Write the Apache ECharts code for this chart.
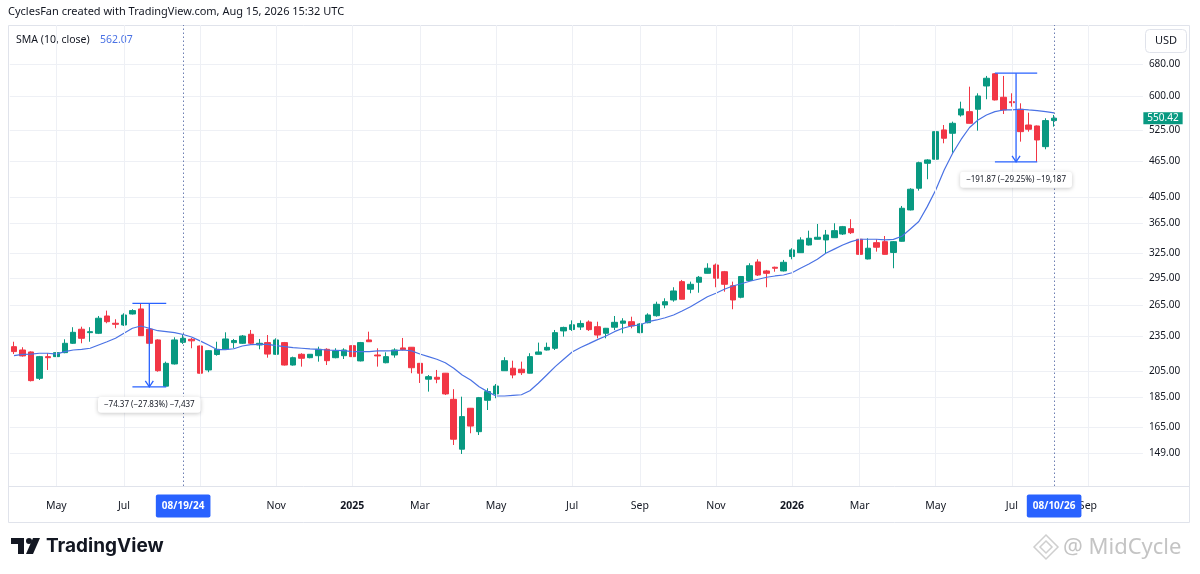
<!DOCTYPE html>
<html>
<head>
<meta charset="utf-8">
<script src="https://cdn.jsdelivr.net/npm/echarts@6/dist/echarts.min.js"></script>
<style>
html,body{margin:0;padding:0;background:#fff;}
#chart{width:1200px;height:574px;}
</style>
</head>
<body>
<div id="chart"></div>
<script>
// ---------- DATA ----------
const startWeek = '2024-04-01';   // first visible weekly candle (Monday)
const weekSlots = 134;            // weekly slots on the time axis (incl. future space)

const open = [225.6,222.7,221.0,199.4,217.0,217.0,220.4,228.6,241.5,238.3,
237.7,254.3,247.2,245.5,256.3,261.4,241.5,231.6,193.4,210.9,
229.5,232.2,226.2,206.0,218.8,223.3,229.2,228.6,236.8,227.1,
229.2,219.0,229.2,210.0,219.0,216.1,217.8,223.3,216.1,217.8,
226.5,213.4,231.6,218.4,211.9,218.4,224.5,225.1,211.4,198.7,
200.2,203.4,183.7,151.2,177.4,161.9,183.0,187.6,205.4,207.4,
206.6,203.4,219.0,222.7,224.2,239.9,241.2,243.6,248.4,243.9,
237.7,243.4,247.2,248.7,238.3,247.7,254.6,265.5,270.7,290.8,
282.3,290.1,300.4,310.3,302.3,286.2,273.6,292.1,314.0,303.2,
307.6,303.2,320.7,325.6,335.5,343.1,342.2,345.2,350.2,357.6,
343.1,317.7,338.6,339.9,325.9,340.4,384.7,418.7,461.5,468.9,
525.7,518.9,557.3,564.6,569.9,624.1,654.5,597.2,587.0,569.9,
535.9,533.9,492.5,545.2];

const high = [230.0,225.1,221.5,217.6,219.9,221.3,232.2,243.4,243.9,243.4,
254.3,259.7,251.1,257.0,261.1,267.2,244.6,232.2,212.8,234.0,
236.1,233.4,226.6,222.7,230.0,238.6,232.5,236.1,240.8,232.5,
236.1,233.1,229.8,217.0,219.9,219.2,225.6,224.2,224.2,224.2,
231.6,229.8,239.2,224.2,220.7,224.2,233.4,225.3,211.7,202.0,
206.0,203.6,191.1,185.6,177.6,185.4,191.8,195.0,216.5,213.6,
212.8,219.9,229.2,229.2,240.8,243.9,250.0,250.0,250.0,248.7,
242.7,254.3,252.1,253.6,247.2,257.0,268.9,272.5,284.5,292.7,
290.8,297.3,312.4,312.1,303.2,290.8,297.3,312.4,317.3,304.4,
308.3,316.5,331.3,345.8,354.8,364.2,355.8,365.2,361.4,371.0,
352.0,344.4,343.1,347.5,340.8,390.7,418.7,464.4,468.9,523.7,
535.9,543.0,587.0,622.4,606.5,649.0,656.0,649.0,606.5,583.3,
562.3,534.9,550.2,557.3];

const low = [219.2,217.0,197.0,198.1,206.0,216.7,219.9,228.0,228.6,230.0,
237.0,247.2,242.4,244.6,255.8,235.2,226.2,204.6,192.9,210.4,
228.0,224.2,203.2,204.2,217.8,222.9,224.2,228.0,227.7,223.3,
216.1,218.4,209.6,209.5,208.7,215.6,212.8,210.0,215.6,215.0,
216.1,213.0,229.8,208.7,211.4,216.1,222.4,203.4,195.8,189.3,
195.6,186.8,153.7,148.4,160.9,159.8,176.2,184.5,205.2,199.4,
202.0,203.2,218.8,222.3,222.7,234.6,239.9,240.8,239.9,233.1,
233.1,240.8,237.7,242.4,237.7,247.2,253.6,262.1,268.9,271.3,
277.9,278.5,300.2,284.5,279.6,261.1,272.5,291.6,297.3,284.5,
302.3,302.6,317.3,325.2,334.9,342.8,324.8,344.9,348.9,350.2,
322.7,317.1,326.9,323.3,306.4,339.9,384.0,414.8,433.7,460.3,
499.0,481.0,553.7,539.1,524.2,592.6,589.8,559.4,575.7,502.2,
522.2,464.1,487.5,532.5];

const close = [221.3,217.6,197.6,217.0,216.1,220.4,228.6,238.6,233.1,239.2,
252.1,248.7,246.2,255.3,259.7,235.5,228.6,205.4,211.4,231.6,
233.1,230.8,203.4,222.1,223.3,232.5,231.1,235.2,228.6,228.6,
219.2,231.6,210.0,216.1,215.6,219.0,223.3,213.6,221.9,222.7,
217.0,229.2,230.0,217.6,217.0,222.7,223.0,207.8,203.4,200.7,
198.7,187.6,157.2,171.7,165.5,184.9,189.3,193.5,213.6,202.0,
203.8,217.0,221.0,225.0,238.3,243.2,245.7,247.0,241.1,236.1,
242.4,248.1,249.4,244.6,246.5,255.3,266.2,268.9,280.4,271.5,
287.8,295.8,306.4,294.7,287.8,270.7,296.7,309.4,298.4,300.4,
306.4,313.6,329.1,342.2,344.4,345.8,348.9,354.8,360.4,352.0,
323.5,331.3,332.6,323.5,339.9,387.2,417.1,462.6,467.6,522.2,
508.9,539.5,570.6,539.5,600.2,643.2,591.0,568.3,584.7,522.2,
527.1,505.5,545.2,550.42];

// SMA(10, close)
const sma10 = [217.8,219.0,219.2,219.9,219.9,219.2,221.3,222.7,223.3,224.2,
227.1,230.0,233.1,237.7,242.4,244.6,242.4,240.1,239.2,238.3,
236.6,234.3,230.8,227.1,223.1,223.1,223.8,226.2,227.4,227.7,
227.7,226.5,225.6,224.7,224.2,223.6,223.3,222.7,222.4,222.1,
221.3,221.3,221.3,221.9,221.9,222.1,222.7,221.9,219.2,217.0,
214.8,211.9,207.4,202.0,198.1,193.0,189.3,186.1,186.1,186.6,
187.0,190.0,195.6,202.0,208.7,214.8,221.0,224.9,228.3,231.9,
235.2,239.2,242.4,244.6,245.5,248.7,250.4,252.6,255.3,259.3,
263.6,268.9,274.2,277.9,282.3,285.9,288.4,291.2,293.5,295.8,
297.3,298.4,301.1,306.4,311.5,317.3,324.8,330.1,335.5,339.9,
343.1,343.1,343.1,342.2,342.9,347.1,357.2,367.8,389.7,415.9,
449.7,479.9,506.5,530.7,546.6,557.3,564.6,568.3,568.3,569.9,
568.3,566.8,564.6,562.07];

// price-scale tick labels
const priceTicks = [149,165,185,205,235,265,295,325,365,405,465,525,600,680];

// time-scale labels
const timeLabelDates = ['2024-05-06','2024-07-01','2024-11-04','2025-01-06','2025-03-03','2025-05-05','2025-07-07','2025-09-01','2025-11-03','2026-01-05','2026-03-02','2026-05-04','2026-07-06','2026-09-07'];
const timeLabelTexts = ['May','Jul','Nov','2025','Mar','May','Jul','Sep','Nov','2026','Mar','May','Jul','Sep'];
// highlighted (crosshair) dates and their tags
const highlightedDates = ['2024-08-19','2026-08-10'];
const highlightedTexts = ['08/19/24','08/10/26'];
const gridDates = ['2024-05-06','2024-07-01','2024-09-02','2024-11-04','2025-01-06','2025-03-03','2025-05-05','2025-07-07','2025-09-01','2025-11-03','2026-01-05','2026-03-02','2026-05-04','2026-07-06','2026-09-07'];

// price-range measurements (candle index from/to, high, low, text)
const measureFrom = [14, 116];
const measureTo = [18, 121];
const measureHigh = [267.23, 656.00];
const measureLow = [192.86, 464.13];
const measureText = ['\u221274.37 (\u221227.83%) \u22127,437', '\u2212191.87 (\u221229.25%) \u221219,187'];

// ---------- BUILD ----------
const weeks = [];
{
  const [y, m, d] = startWeek.split('-').map(Number);
  const t0 = Date.UTC(y, m - 1, d);
  for (let k = 0; k < weekSlots; k++) {
    weeks.push(new Date(t0 + k * 7 * 86400000).toISOString().slice(0, 10));
  }
}
const labelMap = {};
timeLabelDates.forEach((d, i) => { labelMap[d] = timeLabelTexts[i]; });

const candleData = open.map((o, i) => [o, close[i], low[i], high[i]]);
const measureData = measureFrom.map((s, i) => [s, measureTo[i], measureHigh[i], measureLow[i]]);

const GREEN = '#089981', RED = '#F23645', BLUE = '#2962FF', SMA_COLOR = '#4a72e4';
const FONT = '"Noto Sans", "DejaVu Sans", sans-serif';
const TXT = '#131722', FRAME = '#e0e3eb', GRID = '#eef0f5';

const chart = echarts.init(document.getElementById('chart'), null, {renderer: 'canvas'});

const option = {
  animation: false,
  backgroundColor: '#ffffff',
  textStyle: {fontFamily: FONT},
  grid: {left: 9.8, top: 25, width: 1133.1, height: 461, containLabel: false},
  xAxis: {
    type: 'category',
    data: weeks,
    boundaryGap: true,
    axisLine: {show: false},
    axisTick: {show: false},
    splitLine: {show: false},
    axisLabel: {
      interval: (idx, val) => labelMap[val] !== undefined,
      hideOverlap: false,
      showMinLabel: true,
      showMaxLabel: true,
      margin: 8.5,
      formatter: (val) => {
        const t = labelMap[val];
        if (t === undefined) return '';
        if (/^\d{4}$/.test(t)) return '{yr|' + t + '}';
        return '{n|' + t + '}';
      },
      rich: {
        n: {fontSize: 10.5, color: TXT, lineHeight: 23, fontFamily: FONT},
        yr: {fontSize: 10.5, color: TXT, lineHeight: 23, fontWeight: 'bold', fontFamily: FONT}
      }
    }
  },
  yAxis: {
    type: 'log',
    logBase: 10,
    position: 'right',
    min: 130.97,
    max: 791.8,
    axisLine: {show: false},
    axisTick: {show: false, customValues: priceTicks},
    axisLabel: {
      customValues: priceTicks,
      formatter: (v) => Number(v).toFixed(2),
      color: TXT, fontSize: 10, margin: 6, align: 'left', fontFamily: FONT
    },
    splitLine: {show: true, lineStyle: {color: GRID, width: 1}}
  },
  series: [
    {
      name: 'grid', type: 'line', data: [], z: 1, silent: true,
      markLine: {
        silent: true, symbol: ['none', 'none'], label: {show: false},
        lineStyle: {color: GRID, width: 1, type: 'solid'},
        data: gridDates.map(d => ({xAxis: d}))
      }
    },
    {
      name: 'candles', type: 'candlestick', data: candleData, z: 3,
      barWidth: 6,
      itemStyle: {color: GREEN, color0: RED, borderColor: GREEN, borderColor0: RED, borderWidth: 1}
    },
    {
      name: 'SMA (10, close)', type: 'line', data: sma10, z: 4,
      symbol: 'none', smooth: false,
      lineStyle: {color: SMA_COLOR, width: 1.2}
    },
    {
      name: 'crosshair', type: 'line', data: [], z: 5, silent: true,
      markLine: {
        silent: true, symbol: ['none', 'none'],
        lineStyle: {color: '#6d7fb3', width: 1, type: [1.5, 2.5]},
        label: {
          show: true, position: 'start', distance: 8.5,
          color: '#ffffff', fontWeight: 'bold', fontSize: 10, fontFamily: FONT,
          backgroundColor: BLUE, padding: [0, 6], lineHeight: 23, height: 23, borderRadius: 2
        },
        data: highlightedDates.map((d, i) => ({xAxis: d, label: {formatter: highlightedTexts[i]}}))
      }
    },
    {
      name: 'measure', type: 'custom', z: 10, clip: false,
      data: measureData,
      encode: {x: [0, 1], y: [2, 3]},
      renderItem: (params, api) => {
        const s = api.value(0), e = api.value(1), hi = api.value(2), lo = api.value(3);
        const a = api.coord([s, hi]), b = api.coord([e, hi]);
        const c = api.coord([s, lo]), d = api.coord([e, lo]);
        const mx = (a[0] + b[0]) / 2;
        const ls = {stroke: BLUE, lineWidth: 1.3};
        return {
          type: 'group',
          children: [
            {type: 'line', shape: {x1: a[0], y1: a[1], x2: b[0], y2: b[1]}, style: ls},
            {type: 'line', shape: {x1: c[0], y1: c[1], x2: d[0], y2: d[1]}, style: ls},
            {type: 'line', shape: {x1: mx, y1: a[1], x2: mx, y2: c[1]}, style: ls},
            {type: 'polyline', shape: {points: [[mx - 4, c[1] - 6], [mx, c[1]], [mx + 4, c[1] - 6]]}, style: {stroke: BLUE, lineWidth: 1.3, fill: null}},
            {type: 'text', x: mx, y: c[1] + 18,
             style: {text: measureText[params.dataIndex], fill: TXT, font: '8px ' + FONT,
                      align: 'center', verticalAlign: 'middle',
                      backgroundColor: '#ffffff', padding: [4, 6], borderRadius: 3,
                      shadowBlur: 4, shadowColor: 'rgba(0,0,0,0.22)', shadowOffsetY: 1}}
          ]
        };
      }
    }
  ],
  graphic: {
    elements: [
      {id: 'frame', type: 'rect', silent: true, z: 0,
       shape: {x: 8.5, y: 25.5, width: 1181, height: 497},
       style: {fill: null, stroke: FRAME, lineWidth: 1}},
      {id: 'sep', type: 'line', silent: true, z: 0,
       shape: {x1: 8.5, y1: 486.5, x2: 1189.5, y2: 486.5},
       style: {stroke: FRAME, lineWidth: 1}},
      {id: 'title', type: 'text', x: 8, y: 12,
       style: {text: 'CyclesFan created with TradingView.com, Aug 15, 2026 15:32 UTC', fill: TXT,
               font: '11px ' + FONT, verticalAlign: 'middle'}},
      {id: 'smaName', type: 'text', x: 16, y: 40,
       style: {text: 'SMA (10, close)', fill: TXT, font: '10.5px ' + FONT, verticalAlign: 'middle'}},
      {id: 'smaVal', type: 'text', x: 100, y: 40,
       style: {text: sma10[sma10.length - 1].toFixed(2), fill: SMA_COLOR, font: '10.5px ' + FONT, verticalAlign: 'middle'}},
      {id: 'usdBox', type: 'rect', shape: {x: 1145.5, y: 29.5, width: 41, height: 23, r: 4},
       style: {fill: '#fff', stroke: FRAME, lineWidth: 1}},
      {id: 'usdTxt', type: 'text', x: 1166, y: 41,
       style: {text: 'USD', fill: TXT, font: '11px ' + FONT, align: 'center', verticalAlign: 'middle'}},
      // TradingView logo
      {id: 'tv1', type: 'rect', shape: {x: 11, y: 538, width: 13, height: 6}, style: {fill: '#131722'}},
      {id: 'tv2', type: 'rect', shape: {x: 18, y: 538, width: 6, height: 16}, style: {fill: '#131722'}},
      {id: 'tv3', type: 'circle', shape: {cx: 29, cy: 541, r: 3}, style: {fill: '#131722'}},
      {id: 'tv4', type: 'polygon', shape: {points: [[33, 538], [40, 538], [33, 554], [26, 554]]}, style: {fill: '#131722'}},
      {id: 'tvTxt', type: 'text', x: 46, y: 546,
       style: {text: 'TradingView', fill: '#131722', font: 'bold 19px Inter, ' + FONT, verticalAlign: 'middle'}},
      // watermark
      {id: 'wm1', type: 'polygon', shape: {points: [[1046, 535], [1058, 547], [1046, 559], [1034, 547]]},
       style: {fill: null, stroke: '#cfcfcf', lineWidth: 1.5}},
      {id: 'wm2', type: 'polygon', shape: {points: [[1046, 541], [1052, 547], [1046, 553], [1040, 547]]},
       style: {fill: null, stroke: '#cfcfcf', lineWidth: 1.5}},
      {id: 'wmTxt', type: 'text', x: 1063, y: 548,
       style: {text: '@ MidCycle', fill: '#c4c4c4', font: '22px ' + FONT, verticalAlign: 'middle'}}
    ]
  }
};
chart.setOption(option);

// last-price tag on the price scale, placed through the axis scale
const lastPrice = close[close.length - 1];
const lastY = chart.convertToPixel({yAxisIndex: 0}, lastPrice);
chart.setOption({
  graphic: {
    elements: [
      {id: 'lastPrice', type: 'text', x: 1163, y: lastY, z: 20,
       style: {text: lastPrice.toFixed(2), fill: '#ffffff', font: '10px ' + FONT,
               align: 'center', verticalAlign: 'middle', backgroundColor: GREEN, padding: [1, 4]}}
    ]
  }
});
</script>
</body>
</html>
